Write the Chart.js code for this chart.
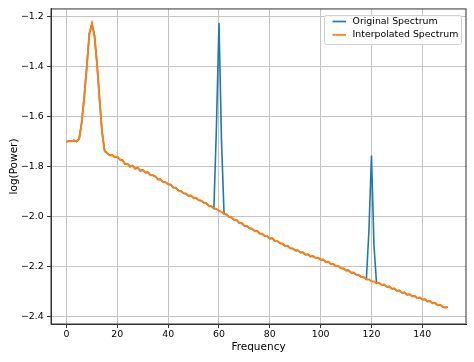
<!DOCTYPE html>
<html>
<head>
<meta charset="utf-8">
<script src="https://cdn.jsdelivr.net/npm/chart.js@4"></script>
<style>
  html, body { margin: 0; padding: 0; background: #fff; }
  canvas { display: block; }
</style>
</head>
<body>
<canvas id="spectrum" width="474" height="362"></canvas>
<script>
// frequency bins
const freqs = [
  0,1,2,3,4,5,6,7,8,9,10,11,12,13,14,15,16,17,18,19,
  20,21,22,23,24,25,26,27,28,29,30,31,32,33,34,35,36,37,38,39,
  40,41,42,43,44,45,46,47,48,49,50,51,52,53,54,55,56,57,58,59,
  60,61,62,63,64,65,66,67,68,69,70,71,72,73,74,75,76,77,78,79,
  80,81,82,83,84,85,86,87,88,89,90,91,92,93,94,95,96,97,98,99,
  100,101,102,103,104,105,106,107,108,109,110,111,112,113,114,115,116,117,118,119,
  120,121,122,123,124,125,126,127,128,129,130,131,132,133,134,135,136,137,138,139,
  140,141,142,143,144,145,146,147,148,149,150
];

// log power, original (with the 60 / 120 spikes)
const originalPower = [
  -1.700,-1.697,-1.698,-1.695,-1.699,-1.688,-1.622,-1.518,-1.398,-1.268,
  -1.228,-1.275,-1.388,-1.528,-1.662,-1.737,-1.746,-1.754,-1.753,-1.762,
  -1.760,-1.771,-1.774,-1.789,-1.788,-1.800,-1.796,-1.808,-1.804,-1.816,
  -1.813,-1.823,-1.822,-1.833,-1.834,-1.840,-1.851,-1.850,-1.861,-1.862,
  -1.870,-1.872,-1.883,-1.884,-1.895,-1.897,-1.906,-1.908,-1.916,-1.915,
  -1.925,-1.924,-1.934,-1.936,-1.944,-1.946,-1.957,-1.958,-1.967,-1.639,
  -1.225,-1.699,-1.989,-1.991,-2.001,-2.003,-2.013,-2.014,-2.025,-2.026,
  -2.036,-2.037,-2.046,-2.048,-2.057,-2.056,-2.067,-2.068,-2.077,-2.078,
  -2.087,-2.086,-2.097,-2.098,-2.106,-2.108,-2.117,-2.116,-2.126,-2.127,
  -2.135,-2.134,-2.143,-2.142,-2.152,-2.150,-2.159,-2.157,-2.165,-2.164,
  -2.172,-2.171,-2.181,-2.180,-2.189,-2.189,-2.198,-2.197,-2.206,-2.207,
  -2.215,-2.214,-2.224,-2.223,-2.232,-2.233,-2.241,-2.242,-2.250,-2.057,
  -1.755,-2.117,-2.266,-2.264,-2.273,-2.271,-2.280,-2.279,-2.288,-2.287,
  -2.296,-2.295,-2.304,-2.303,-2.312,-2.310,-2.318,-2.317,-2.325,-2.323,
  -2.331,-2.330,-2.339,-2.337,-2.346,-2.344,-2.354,-2.352,-2.360,-2.363,
  -2.362
];

// log power after interpolating over the spikes
const interpPower = [
  -1.700,-1.697,-1.698,-1.695,-1.699,-1.688,-1.622,-1.518,-1.398,-1.268,
  -1.228,-1.275,-1.388,-1.528,-1.662,-1.737,-1.746,-1.754,-1.753,-1.762,
  -1.760,-1.771,-1.774,-1.789,-1.788,-1.800,-1.796,-1.808,-1.804,-1.816,
  -1.813,-1.823,-1.822,-1.833,-1.834,-1.840,-1.851,-1.850,-1.861,-1.862,
  -1.870,-1.872,-1.883,-1.884,-1.895,-1.897,-1.906,-1.908,-1.916,-1.915,
  -1.925,-1.924,-1.934,-1.936,-1.944,-1.946,-1.957,-1.958,-1.967,-1.969,
  -1.977,-1.980,-1.989,-1.991,-2.001,-2.003,-2.013,-2.014,-2.025,-2.026,
  -2.036,-2.037,-2.046,-2.048,-2.057,-2.056,-2.067,-2.068,-2.077,-2.078,
  -2.087,-2.086,-2.097,-2.098,-2.106,-2.108,-2.117,-2.116,-2.126,-2.127,
  -2.135,-2.134,-2.143,-2.142,-2.152,-2.150,-2.159,-2.157,-2.165,-2.164,
  -2.172,-2.171,-2.181,-2.180,-2.189,-2.189,-2.198,-2.197,-2.206,-2.207,
  -2.215,-2.214,-2.224,-2.223,-2.232,-2.233,-2.241,-2.242,-2.250,-2.251,
  -2.258,-2.259,-2.266,-2.264,-2.273,-2.271,-2.280,-2.279,-2.288,-2.287,
  -2.296,-2.295,-2.304,-2.303,-2.312,-2.310,-2.318,-2.317,-2.325,-2.323,
  -2.331,-2.330,-2.339,-2.337,-2.346,-2.344,-2.354,-2.352,-2.360,-2.363,
  -2.362
];

const seriesNames = ['Original Spectrum', 'Interpolated Spectrum'];

const FONT = "'DejaVu Sans', sans-serif";
const BLUE = '#1f77b4';
const ORANGE = '#ff7f0e';

// top/right spines + legend inside the axes (matplotlib style)
const framePlugin = {
    id: 'frame',
    afterDatasetsDraw(chart) {
        const { ctx, chartArea: a } = chart;
        ctx.save();
        ctx.strokeStyle = '#333';
        ctx.lineWidth = 1;
        ctx.strokeRect(a.left, a.top, a.right - a.left, a.bottom - a.top);

        // legend box
        const bx = 324, by = 15, bw = 137, bh = 29;
        ctx.fillStyle = 'rgba(255,255,255,0.85)';
        ctx.strokeStyle = '#d0d0d0';
        ctx.beginPath();
        ctx.roundRect(bx + 0.5, by + 0.5, bw, bh, 2);
        ctx.fill();
        ctx.stroke();

        ctx.font = `9.4px ${FONT}`;
        ctx.textBaseline = 'middle';
        chart.data.datasets.forEach((ds, i) => {
            const y = 21.5 + i * 13.4;
            ctx.strokeStyle = ds.borderColor;
            ctx.lineWidth = 1.7;
            ctx.beginPath();
            ctx.moveTo(332.5, y);
            ctx.lineTo(346, y);
            ctx.stroke();
            ctx.fillStyle = '#000';
            ctx.fillText(ds.label, 352.5, y);
        });
        ctx.restore();
    }
};

const ctx = document.getElementById('spectrum').getContext('2d');
new Chart(ctx, {
    type: 'line',
    data: {
        labels: freqs,
        datasets: [
            {
                label: seriesNames[0],
                data: originalPower,
                borderColor: BLUE,
                borderWidth: 1.6,
                pointRadius: 0,
                tension: 0,
                order: 1
            },
            {
                label: seriesNames[1],
                data: interpPower,
                borderColor: ORANGE,
                borderWidth: 1.9,
                pointRadius: 0,
                tension: 0,
                order: 0
            }
        ]
    },
    options: {
        responsive: false,
        animation: false,
        layout: { padding: { top: 8, right: 8, left: 0, bottom: 0 } },
        plugins: {
            legend: { display: false },
            tooltip: { enabled: false }
        },
        scales: {
            x: {
                type: 'linear',
                min: -6.1,
                max: 157.2,
                afterFit: (s) => { s.height = 38; },
                ticks: {
                    stepSize: 20,
                    includeBounds: false,
                    padding: 1,
                    color: '#000',
                    font: { family: FONT, size: 9.4 },
                    maxRotation: 0,
                    callback: (v) => String(v)
                },
                grid: {
                    color: '#c4c4c4',
                    lineWidth: 1,
                    tickColor: '#333',
                    tickLength: 4,
                    tickWidth: 1
                },
                border: { display: true, color: '#333', width: 1 },
                title: {
                    display: true,
                    text: 'Frequency',
                    color: '#000',
                    font: { family: FONT, size: 10.5 },
                    padding: { top: 0, bottom: 8.8 }
                }
            },
            y: {
                min: -2.429,
                max: -1.169,
                afterFit: (s) => { s.width = 51; },
                ticks: {
                    stepSize: 0.2,
                    includeBounds: false,
                    padding: 3.3,
                    color: '#000',
                    font: { family: FONT, size: 9.4 },
                    callback: (v) => v.toFixed(1).replace('-', '\u2212')
                },
                grid: {
                    color: '#c4c4c4',
                    lineWidth: 1,
                    tickColor: '#333',
                    tickLength: 4,
                    tickWidth: 1
                },
                border: { display: true, color: '#333', width: 1 },
                title: {
                    display: true,
                    text: 'log(Power)',
                    color: '#000',
                    font: { family: FONT, size: 10.5 },
                    padding: { top: 7.8, bottom: 0 }
                }
            }
        }
    },
    plugins: [framePlugin]
});
</script>
</body>
</html>
